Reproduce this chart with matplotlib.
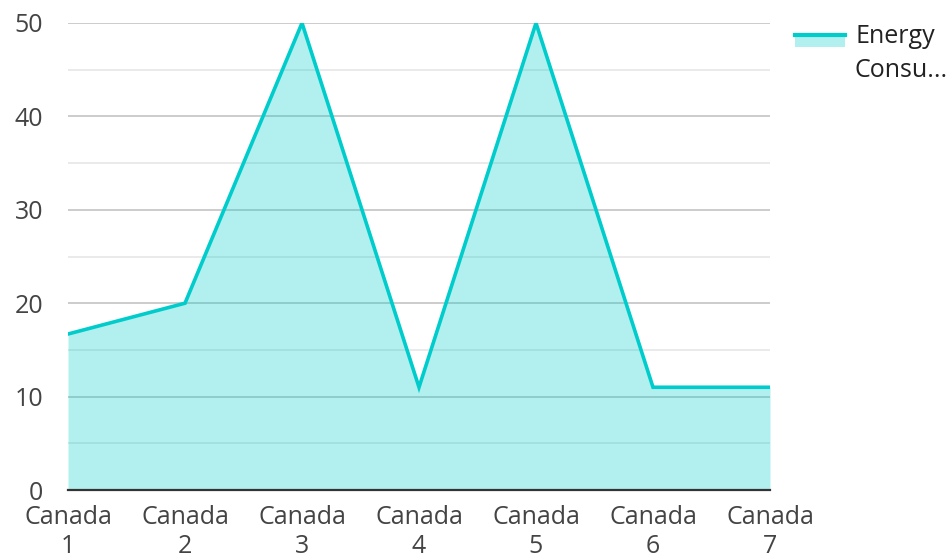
import matplotlib
matplotlib.use("Agg")
import matplotlib.pyplot as plt
from matplotlib.lines import Line2D
from matplotlib.patches import Rectangle
from matplotlib.ticker import MultipleLocator

categories = ["Canada\n1", "Canada\n2", "Canada\n3", "Canada\n4", "Canada\n5", "Canada\n6", "Canada\n7"]
values = [16.7, 20, 50, 11, 50, 11, 11]
series_name = "Energy\nConsu..."

LINE = "#00cccc"
FILL = "#b2efef"
TEXT = "#444444"

plt.rcParams["font.family"] = ["Open Sans", "DejaVu Sans"]

fig = plt.figure(figsize=(9.49, 5.6), dpi=100)
ax = fig.add_axes([68 / 949, 1 - 490 / 560, 702 / 949, 467 / 560])

xs = list(range(len(values)))
ax.fill_between(xs, values, 0, color=LINE, alpha=0.3, lw=0, zorder=1)
ax.plot(xs, values, color=LINE, lw=2.6, zorder=3, solid_joinstyle="miter")

ax.set_xlim(0, len(values) - 1)
ax.set_ylim(0, 50)
ax.yaxis.set_major_locator(MultipleLocator(10))
ax.yaxis.set_minor_locator(MultipleLocator(5))
ax.grid(which="major", axis="y", color="#c4c4c4", lw=1.2, zorder=0)
ax.grid(which="minor", axis="y", color="#e6e6e6", lw=1.2, zorder=0)
ax.set_axisbelow(True)

ax.set_xticks(xs, labels=categories)
ax.tick_params(axis="both", which="both", length=0, labelsize=18, colors=TEXT)
ax.tick_params(axis="x", pad=11)
ax.tick_params(axis="y", pad=18)
for lab in ax.get_xticklabels():
    lab.set_linespacing(1.22)
for s in ["top", "right", "left"]:
    ax.spines[s].set_visible(False)
ax.spines["bottom"].set_color("#333333")
ax.spines["bottom"].set_linewidth(1.6)
ax.spines["bottom"].set_zorder(4)

# legend
fig.add_artist(Rectangle((795 / 949, 1 - 47 / 560), 50 / 949, 14 / 560,
                         transform=fig.transFigure, color=FILL, lw=0))
fig.add_artist(Line2D([795 / 949, 845 / 949], [1 - 35 / 560, 1 - 35 / 560],
                      transform=fig.transFigure, color=LINE, lw=3))
fig.text(855 / 949, 1 - 24 / 560, series_name, fontsize=18, color="#222222",
         va="top", ha="left", linespacing=1.45)

fig.savefig("out.png", dpi=100)
